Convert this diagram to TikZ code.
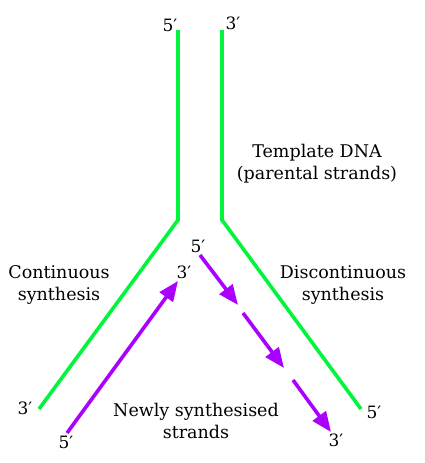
\documentclass[tikz,border=0pt]{standalone}
\usepackage{fontspec}
\setmainfont{DejaVu Serif}
\usetikzlibrary{arrows.meta}
\definecolor{strandgreen}{RGB}{0,245,60}
\definecolor{newpurple}{RGB}{170,0,255}
\begin{document}
\begin{tikzpicture}[x=1pt,y=-1pt,
  template/.style={draw=strandgreen,line width=3.6pt},
  newstrand/.style={draw=newpurple,line width=3.6pt,-{Triangle[length=20pt,width=16pt]}},
  lbl/.style={inner sep=0pt,font=\fontsize{17}{20}\selectfont},
  txt/.style={inner sep=0pt,align=center,font=\fontsize{17.5}{22}\selectfont}]
\useasboundingbox (0,0) rectangle (425,463);
% template strands
\coordinate (lt) at (178,30);
\coordinate (lf) at (178,220);
\coordinate (lb) at (39,409);
\coordinate (rt) at (222,30);
\coordinate (rf) at (222,220);
\coordinate (rb) at (361,409);
\draw[template] (lt) -- (lf) -- (lb);
\draw[template] (rt) -- (rf) -- (rb);
% leading strand
\coordinate (ls) at (67,433);
\coordinate (le) at (178,281);
\draw[newstrand] (ls) -- (le);
% lagging strand fragments
\coordinate (a1) at (200,255);
\coordinate (a2) at (238,305);
\coordinate (b1) at (243,313);
\coordinate (b2) at (284,368);
\coordinate (c1) at (293,380);
\coordinate (c2) at (331,432);
\draw[newstrand] (a1) -- (a2);
\draw[newstrand] (b1) -- (b2);
\draw[newstrand] (c1) -- (c2);
% end labels
\node[lbl] (n1) at (170,25) {5′};
\node[lbl] (n2) at (233,23) {3′};
\node[lbl] (n3) at (198,246) {5′};
\node[lbl] (n4) at (184,272) {3′};
\node[lbl] (n5) at (25,408) {3′};
\node[lbl] (n6) at (66,442) {5′};
\node[lbl] (n7) at (374,412) {5′};
\node[lbl] (n8) at (336,440) {3′};
% descriptions
\node[txt] (t1) at (317,164) {Template DNA\\(parental strands)};
\node[txt] (t2) at (59,285) {Continuous\\synthesis};
\node[txt] (t3) at (343,285) {Discontinuous\\synthesis};
\node[txt] (t4) at (196,421) {Newly synthesised\\strands};
\end{tikzpicture}
\end{document}
